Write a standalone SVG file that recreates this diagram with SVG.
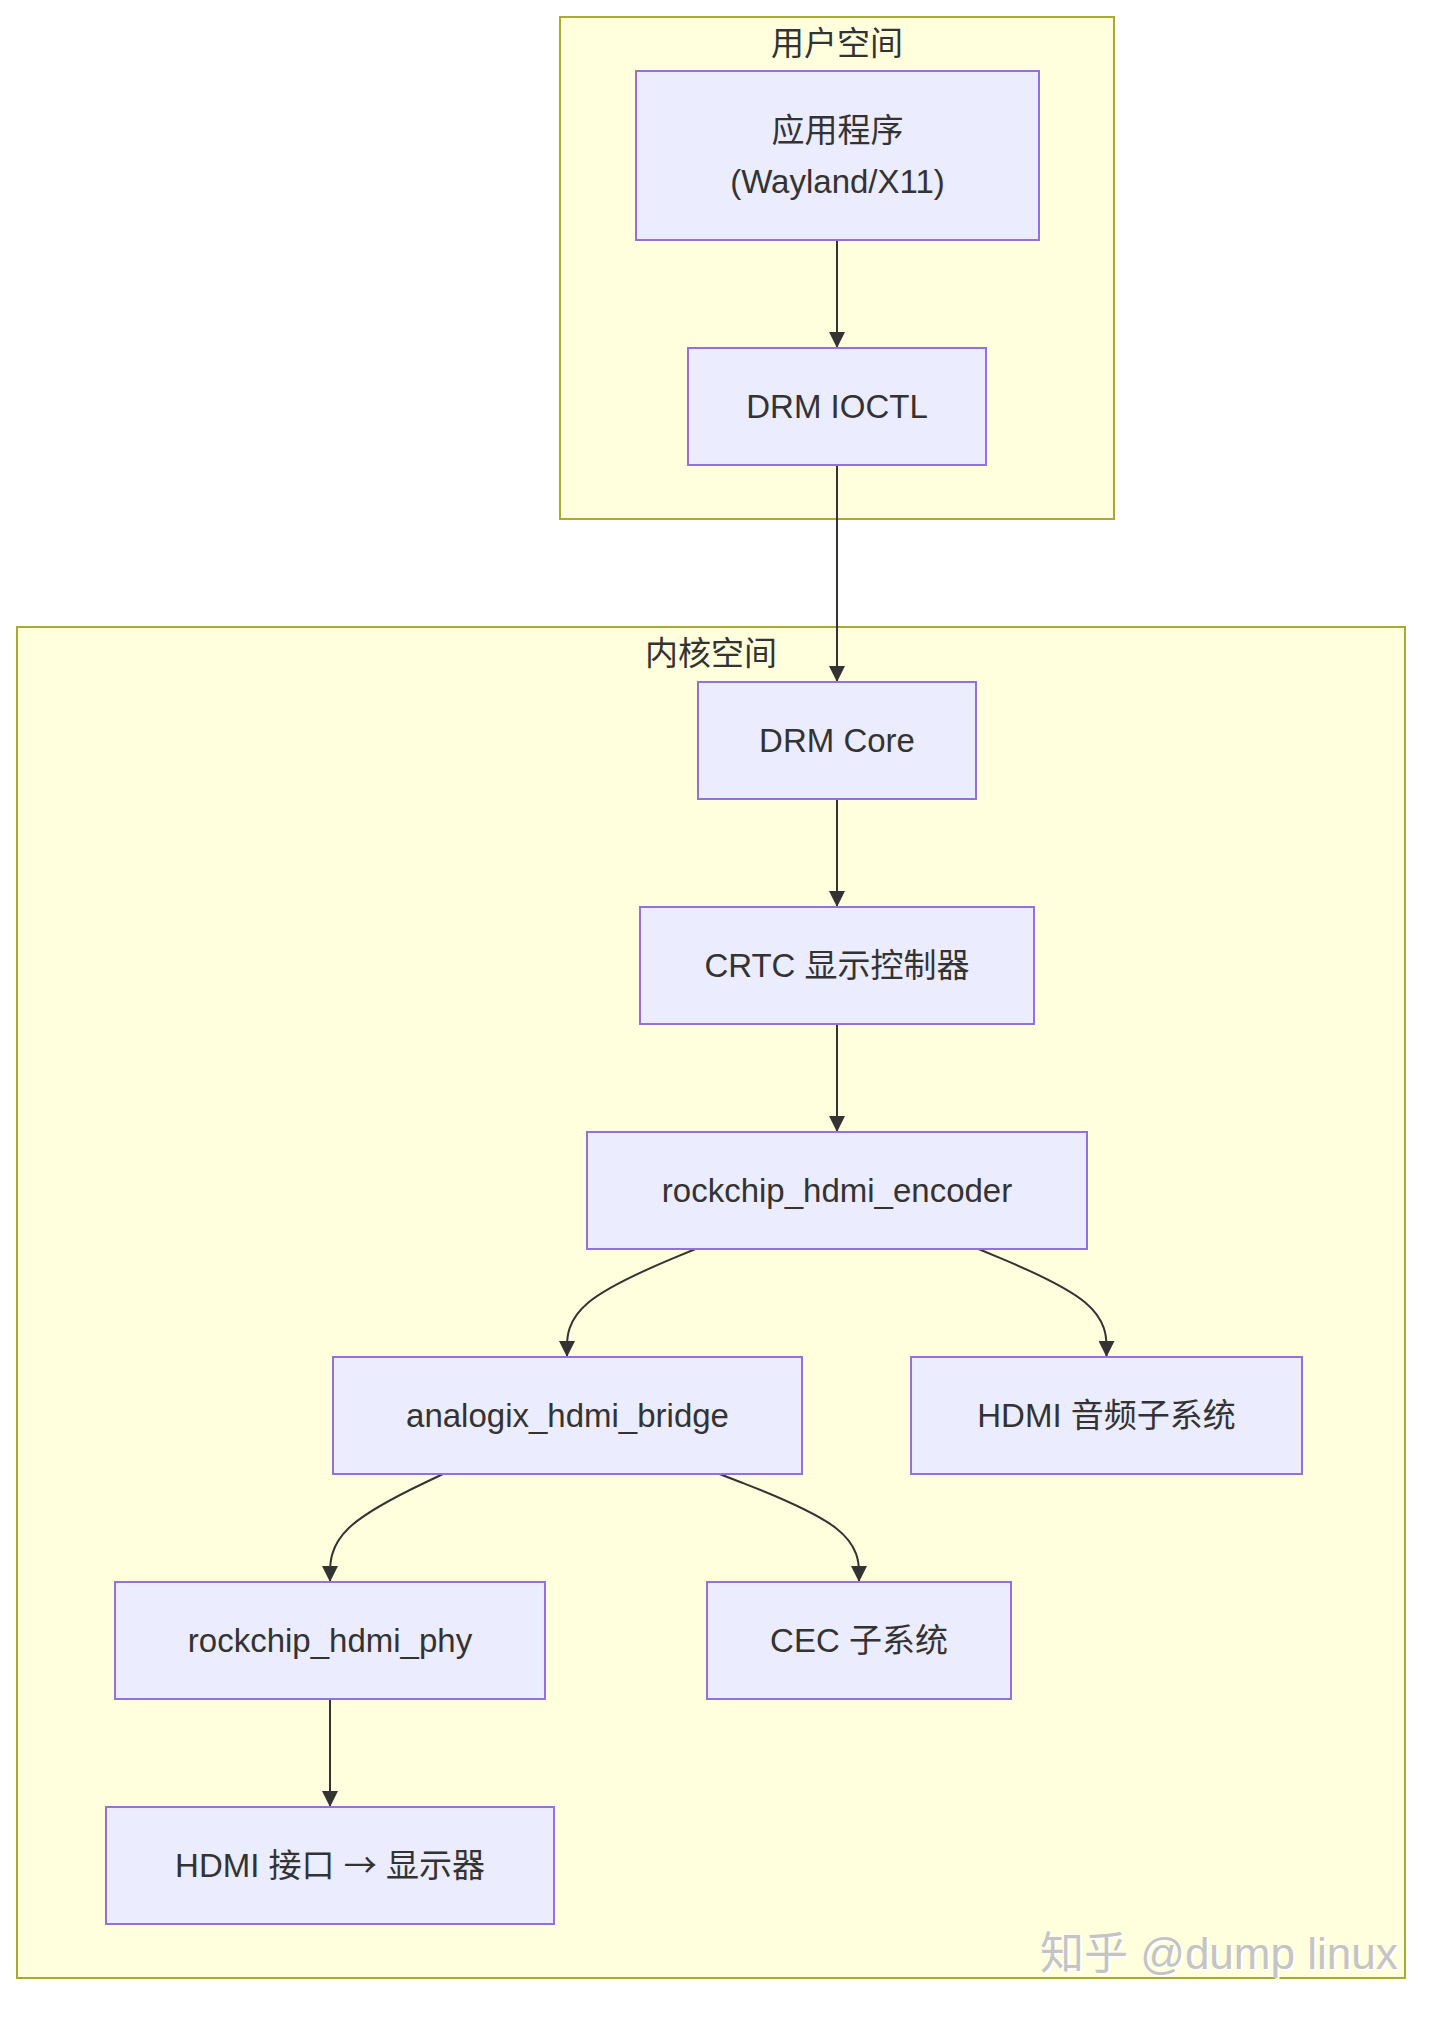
<svg xmlns="http://www.w3.org/2000/svg" width="1440" height="2018" viewBox="0 0 1440 2018">
<style>
.cluster{fill:#ffffde;stroke:#aaaa33;stroke-width:2}
.node rect{fill:#ececff;stroke:#9370db;stroke-width:2}
.t{font-family:"Liberation Sans","Noto Sans CJK SC",sans-serif;font-size:33px;fill:#333;text-anchor:middle}
.cjk{font-family:"Noto Sans CJK SC",sans-serif}
.edge{fill:none;stroke:#333;stroke-width:2}
.wm{font-family:"Liberation Sans","Noto Sans CJK SC",sans-serif;font-size:44px}
</style>
<defs>
<marker id="arr" markerUnits="userSpaceOnUse" markerWidth="16" markerHeight="16" refX="16" refY="8" orient="auto">
<path d="M0,0 L16,8 L0,16 z" fill="#333"/>
</marker>
</defs>
<rect width="1440" height="2018" fill="#fff"/>
<g id="cluster-user">
<rect class="cluster" x="560" y="17" width="554" height="502"/>
<text class="t" x="837" y="55">用户空间</text>
</g>
<g id="cluster-kernel">
<rect class="cluster" x="17" y="627" width="1388" height="1351"/>
<text class="t" x="711" y="665">内核空间</text>
</g>
<g id="connectors">
<path class="edge" marker-end="url(#arr)" d="M837,240 L837,348"/>
<path class="edge" marker-end="url(#arr)" d="M837,465 L837,682"/>
<path class="edge" marker-end="url(#arr)" d="M837,799 L837,907"/>
<path class="edge" marker-end="url(#arr)" d="M837,1024 L837,1132"/>
<path class="edge" marker-end="url(#arr)" d="M695.5,1249 L674.1,1257.9 C652.7,1266.8 609.8,1284.7 588.4,1302.5 C567,1320.3 567,1338.2 567,1347.1 L567,1357"/>
<path class="edge" marker-end="url(#arr)" d="M978.5,1249 L999.8,1257.9 C1021.2,1266.8 1063.8,1284.7 1085.2,1302.5 C1106.5,1320.3 1106.5,1338.2 1106.5,1347.1 L1106.5,1357"/>
<path class="edge" marker-end="url(#arr)" d="M443,1474 L424.2,1483 C405.3,1492 367.7,1510 348.8,1528 C330,1546 330,1564 330,1573 L330,1582"/>
<path class="edge" marker-end="url(#arr)" d="M719.5,1474 L742.8,1483 C766,1492 812.5,1510 835.8,1528 C859,1546 859,1564 859,1573 L859,1582"/>
<path class="edge" marker-end="url(#arr)" d="M330,1699 L330,1807"/>
</g>
<g id="node-app" class="node">
<rect x="636" y="71" width="403" height="169"/>
<text class="t" x="837.5" y="142">应用程序</text>
<text class="t" x="837.5" y="193">(Wayland/X11)</text>
</g>
<g id="node-ioctl" class="node">
<rect x="688" y="348" width="298" height="117"/>
<text class="t" x="837" y="418">DRM IOCTL</text>
</g>
<g id="node-core" class="node">
<rect x="698" y="682" width="278" height="117"/>
<text class="t" x="837" y="752">DRM Core</text>
</g>
<g id="node-crtc" class="node">
<rect x="640" y="907" width="394" height="117"/>
<text class="t" x="837" y="977">CRTC 显示控制器</text>
</g>
<g id="node-encoder" class="node">
<rect x="587" y="1132" width="500" height="117"/>
<text class="t" x="837" y="1202">rockchip_hdmi_encoder</text>
</g>
<g id="node-bridge" class="node">
<rect x="333" y="1357" width="469" height="117"/>
<text class="t" x="567.5" y="1427">analogix_hdmi_bridge</text>
</g>
<g id="node-audio" class="node">
<rect x="911" y="1357" width="391" height="117"/>
<text class="t" x="1106.5" y="1427">HDMI 音频子系统</text>
</g>
<g id="node-phy" class="node">
<rect x="115" y="1582" width="430" height="117"/>
<text class="t" x="330" y="1652">rockchip_hdmi_phy</text>
</g>
<g id="node-cec" class="node">
<rect x="707" y="1582" width="304" height="117"/>
<text class="t" x="859" y="1652">CEC 子系统</text>
</g>
<g id="node-hdmi" class="node">
<rect x="106" y="1807" width="448" height="117"/>
<text class="t" x="330" y="1877">HDMI 接口 <tspan class="cjk">→</tspan> 显示器</text>
</g>
<g id="watermark">
<text class="wm" x="1042" y="1971" fill="#ffffff">知乎 @dump linux</text>
<text class="wm" x="1040" y="1969" fill="#c4c4c4">知乎 @dump linux</text>
</g>
</svg>
